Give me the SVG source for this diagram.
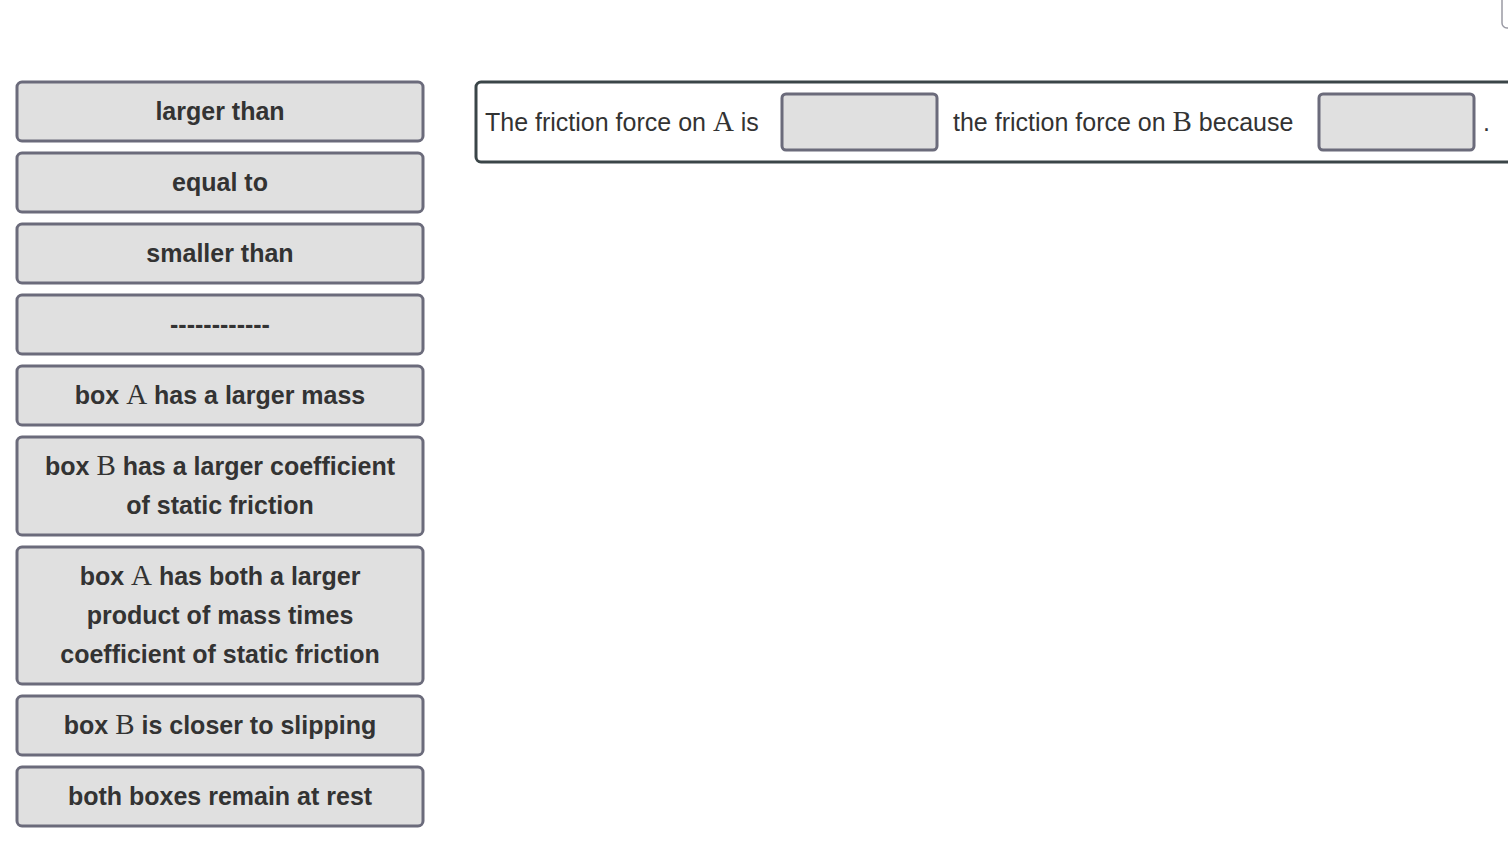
<svg xmlns="http://www.w3.org/2000/svg" width="1508" height="860" viewBox="0 0 1508 860">
<style>
.b{fill:#e0e0e0;stroke:#6b6b7b;stroke-width:3}
.t{font-family:"Liberation Sans",Arial,sans-serif;font-weight:bold;font-size:25px;fill:#333;text-anchor:middle}
.m{font-family:"Liberation Serif","Times New Roman",serif;font-weight:normal;font-size:29px}
.s{font-family:"Liberation Sans",Arial,sans-serif;font-size:25px;fill:#333}
</style>
<rect width="1508" height="860" fill="#fff"/>
<rect x="1502" y="-10" width="20" height="38" rx="5" fill="none" stroke="#9a9aa4" stroke-width="1.5"/>
<g id="n1"><rect class="b" x="17" y="82" width="406" height="59" rx="5"/><text class="t" x="220" y="120">larger than</text></g>
<g id="n2"><rect class="b" x="17" y="153" width="406" height="59" rx="5"/><text class="t" x="220" y="191">equal to</text></g>
<g id="n3"><rect class="b" x="17" y="224" width="406" height="59" rx="5"/><text class="t" x="220" y="262">smaller than</text></g>
<g id="n4"><rect class="b" x="17" y="295" width="406" height="59" rx="5"/><text class="t" x="220" y="333">------------</text></g>
<g id="n5"><rect class="b" x="17" y="366" width="406" height="59" rx="5"/><text class="t" x="220" y="404">box <tspan class="m">A</tspan> has a larger mass</text></g>
<g id="n6"><rect class="b" x="17" y="437" width="406" height="98" rx="5"/><text class="t" x="220" y="475">box <tspan class="m">B</tspan> has a larger coefficient</text><text class="t" x="220" y="514">of static friction</text></g>
<g id="n7"><rect class="b" x="17" y="547" width="406" height="137" rx="5"/><text class="t" x="220" y="585">box <tspan class="m">A</tspan> has both a larger</text><text class="t" x="220" y="624">product of mass times</text><text class="t" x="220" y="663">coefficient of static friction</text></g>
<g id="n8"><rect class="b" x="17" y="696" width="406" height="59" rx="5"/><text class="t" x="220" y="734">box <tspan class="m">B</tspan> is closer to slipping</text></g>
<g id="n9"><rect class="b" x="17" y="767" width="406" height="59" rx="5"/><text class="t" x="220" y="805">both boxes remain at rest</text></g>
<g id="sentence">
<rect x="476" y="82" width="1050" height="80" rx="5" fill="#fff" stroke="#3a4548" stroke-width="3"/>
<text class="s" x="485" y="131">The friction force on <tspan class="m">A</tspan> is</text>
<rect class="b" x="782" y="94" width="155" height="56" rx="4"/>
<text class="s" x="953" y="131">the friction force on <tspan class="m">B</tspan> because</text>
<rect class="b" x="1319" y="94" width="155" height="56" rx="4"/>
<text class="s" x="1483" y="131">.</text>
</g>
<g id="connectors"/>
</svg>
